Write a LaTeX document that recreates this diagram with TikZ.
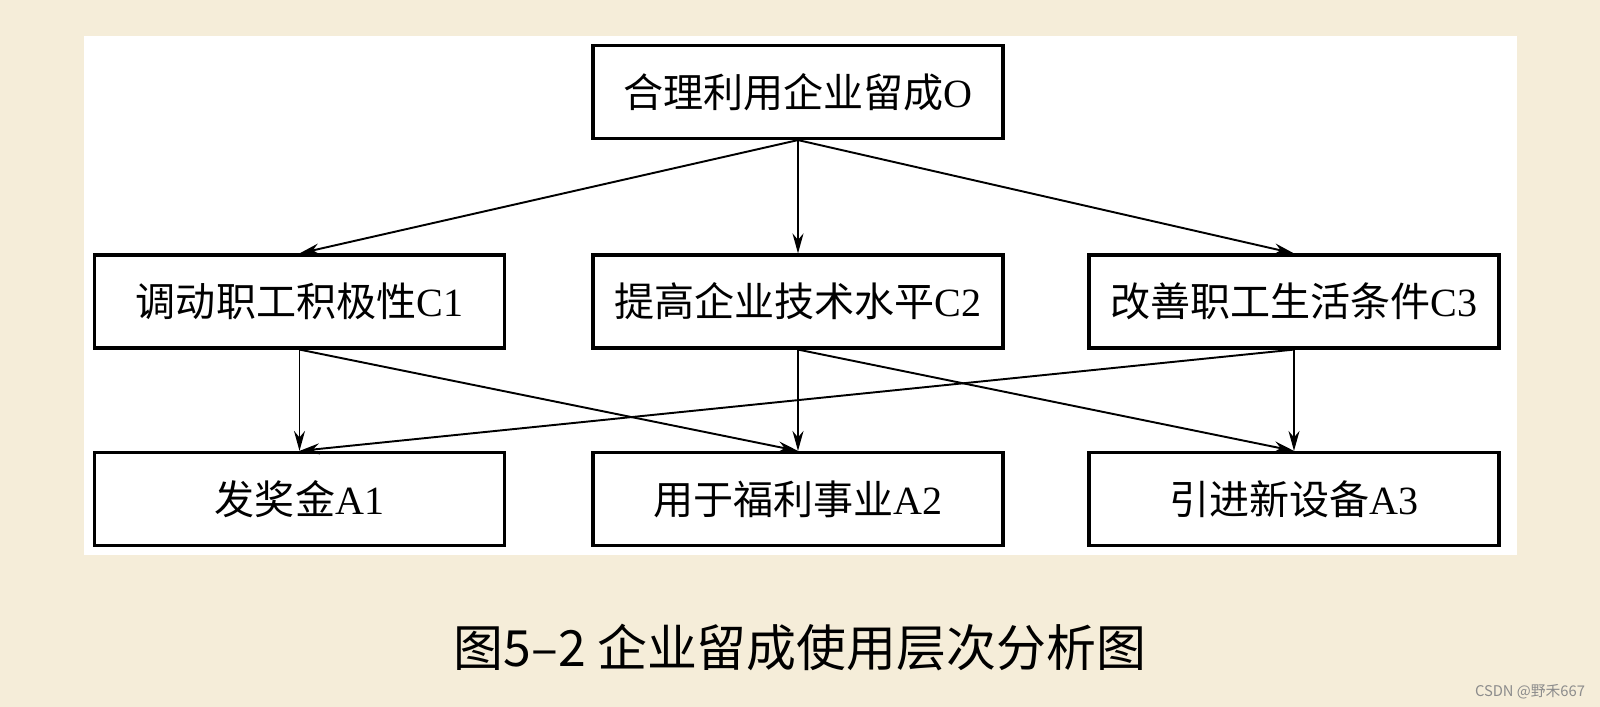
\documentclass[tikz,border=0pt]{standalone}
\usepackage{fontspec}
\setmainfont{Liberation Serif}
\newfontfamily\cjk{Noto Sans CJK SC}
\usetikzlibrary{arrows.meta}
\definecolor{paper}{HTML}{F5EDD9}
\tikzset{
  box/.style={draw, line width=0.9pt, minimum width=41mm, minimum height=9.3mm, inner sep=0pt, font=\fontsize{11.4}{13}\selectfont},
  link/.style={->, line width=0.55pt},
}
\begin{document}
\begin{tikzpicture}[x=0.1mm, y=-0.1mm, >={Stealth[length=2mm,width=1.1mm]}]
        \fill[paper] (0,0) rectangle (1600,707);
        \useasboundingbox (0,0) rectangle (1600,707);
        \fill[white] (84,36) rectangle (1517,555);

        % goal
        \node[box] at (798,92)      (o)   {{\cjk 合理利用企业留成}O};

        % criteria
        \node[box] at (299.5,301.5) (c_1) {{\cjk 调动职工积极性}C1};
        \node[box] at (798,301.5)   (c_2) {{\cjk 提高企业技术水平}C2};
        \node[box] at (1294,301.5)  (c_3) {{\cjk 改善职工生活条件}C3};
        \draw[link]  (o.south) -- (c_1.north);
        \draw[link]  (o.south) -- (c_2.north);
        \draw[link]  (o.south) -- (c_3.north);

        % alternatives
        \node[box] at (299.5,499)   (a_1) {{\cjk 发奖金}A1};
        \node[box] at (798,499)     (a_2) {{\cjk 用于福利事业}A2};
        \node[box] at (1294,499)    (a_3) {{\cjk 引进新设备}A3};
        \draw[link]  (c_1.south) -- (a_1.north);
        \draw[link]  (c_1.south) -- (a_2.north);
        \draw[link]  (c_2.south) -- (a_2.north);
        \draw[link]  (c_2.south) -- (a_3.north);
        \draw[link]  (c_3.south) -- (a_3.north);
        \draw[link]  (c_3.south) -- (a_1.north);

        % caption
        \node[font=\fontsize{14.2}{16}\selectfont\cjk] at (800,648) (caption) {图5–2 企业留成使用层次分析图};
        \node[font=\fontsize{4.2}{5}\selectfont\cjk, text=black!45] at (1530,692) (mark) {CSDN @野禾667};
\end{tikzpicture}
\end{document}
